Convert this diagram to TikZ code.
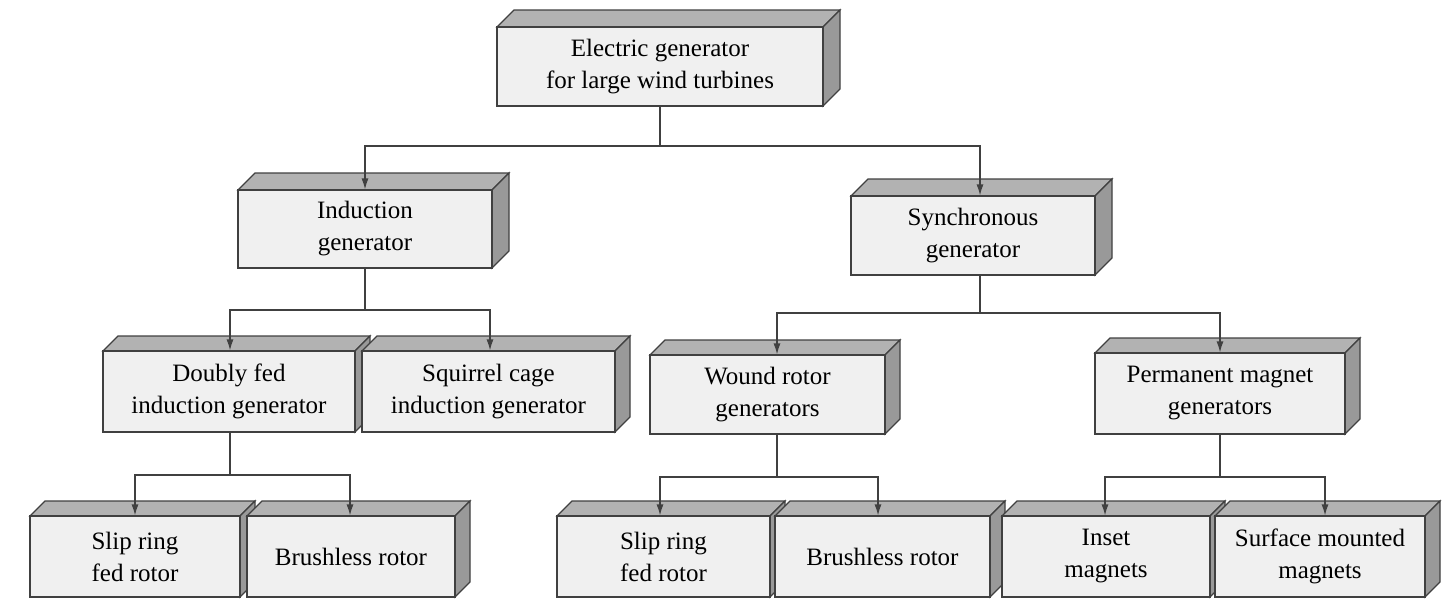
\documentclass[tikz,border=0pt]{standalone}
\usepackage{fontspec}
\setmainfont{Liberation Serif}
\begin{document}
\begin{tikzpicture}[x=1pt,y=-1pt,
  front/.style={draw=black!75,fill=black!6,line width=1.2pt,align=center,inner sep=0pt,font=\fontsize{25}{32}\selectfont},
  topface/.style={draw=black!75,fill=black!30,line width=1.2pt},
  sideface/.style={draw=black!75,fill=black!40,line width=1.2pt},
  conn/.style={draw=black!75,line width=1.2pt},
  arr/.style={conn,-{Latex[length=11pt,width=7pt]}}]
\usetikzlibrary{arrows.meta}
\useasboundingbox (0,0) rectangle (1456,605);
\newcommand{\gbox}[7]{% name x1 y1 x2 y2 depth text
  \fill[topface] (#2,#3) -- (#2+#6,#3-#6) -- (#4+#6,#3-#6) -- (#4,#3) -- cycle;
  \fill[sideface] (#4,#3) -- (#4+#6,#3-#6) -- (#4+#6,#5-#6) -- (#4,#5) -- cycle;
  \node[front,minimum width=#4-#2,minimum height=#5-#3] (#1) at ({(#2+#4)/2},{(#3+#5)/2}) {#7};}
\gbox{top}{497}{27}{823}{106}{17}{Electric generator\\for large wind turbines}
\gbox{ind}{238}{190}{492}{268}{17}{Induction\\generator}
\gbox{syn}{851}{196}{1095}{275}{17}{Synchronous\\generator}
\gbox{dfig}{103}{351}{355}{432}{15}{Doubly fed\\induction generator}
\gbox{scig}{362}{351}{615}{432}{15}{Squirrel cage\\induction generator}
\gbox{wr}{650}{355}{885}{434}{15}{Wound rotor\\generators}
\gbox{pm}{1095}{353}{1345}{434}{15}{Permanent magnet\\generators}
\gbox{sr1}{30}{516}{240}{597}{15}{Slip ring\\fed rotor}
\gbox{br1}{247}{516}{455}{597}{15}{Brushless rotor}
\gbox{sr2}{557}{516}{770}{597}{15}{Slip ring\\fed rotor}
\gbox{br2}{775}{516}{990}{597}{15}{Brushless rotor}
\gbox{im}{1002}{516}{1210}{597}{15}{Inset\\magnets}
\gbox{sm}{1215}{516}{1425}{597}{15}{Surface mounted\\magnets}
% connectors
\coordinate (j0) at (660,146);
\draw[conn] (top.south -| j0) -- (j0);
\draw[arr] (j0) -| (ind.north -| 365,0);
\draw[arr] (j0) -| (syn.north -| 980,0);
\coordinate (j1) at (365,310);
\draw[conn] (ind.south -| j1) -- (j1);
\draw[arr] (j1) -| (dfig.north -| 230,0);
\draw[arr] (j1) -| (scig.north -| 490,0);
\coordinate (j2) at (980,313);
\draw[conn] (syn.south -| j2) -- (j2);
\draw[arr] (j2) -| (wr.north -| 777,0);
\draw[arr] (j2) -| (pm.north -| 1220,0);
\coordinate (j3) at (230,475);
\draw[conn] (dfig.south -| j3) -- (j3);
\draw[arr] (j3) -| (sr1.north -| 135,0);
\draw[arr] (j3) -| (br1.north -| 350,0);
\coordinate (j4) at (777,477);
\draw[conn] (wr.south -| j4) -- (j4);
\draw[arr] (j4) -| (sr2.north -| 660,0);
\draw[arr] (j4) -| (br2.north -| 878,0);
\coordinate (j5) at (1220,477);
\draw[conn] (pm.south -| j5) -- (j5);
\draw[arr] (j5) -| (im.north -| 1105,0);
\draw[arr] (j5) -| (sm.north -| 1325,0);
\end{tikzpicture}
\end{document}
